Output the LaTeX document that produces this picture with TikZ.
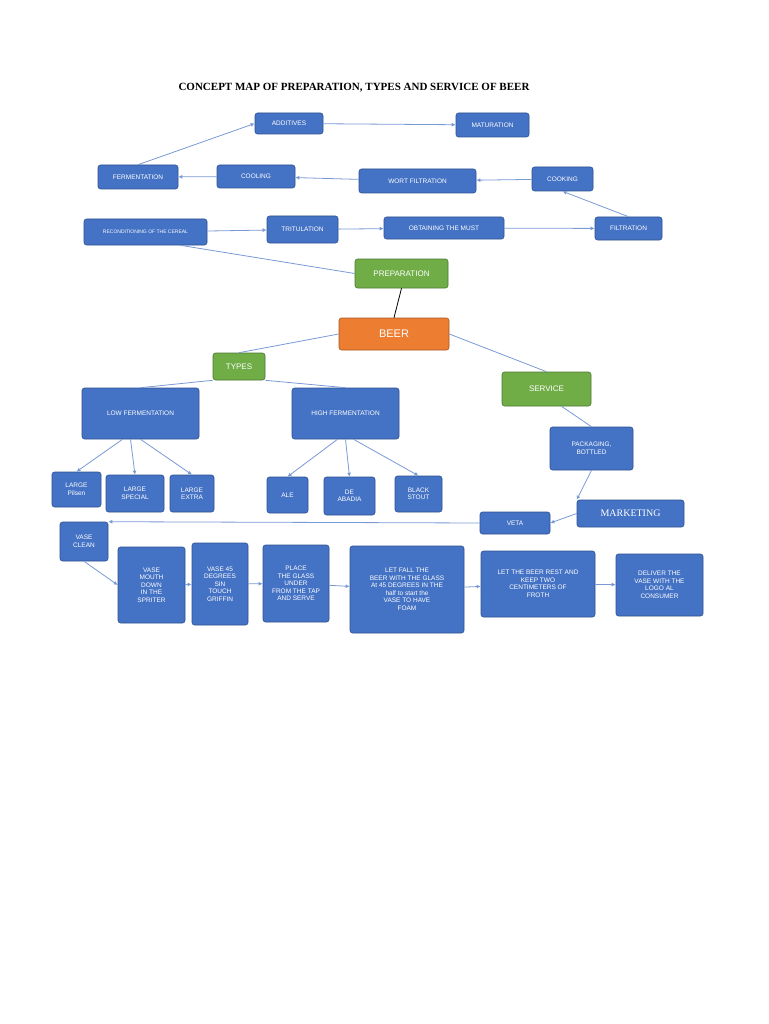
\documentclass[tikz,border=0pt]{standalone}
\usepackage{fontspec}
\setmainfont{Liberation Sans}
\newfontfamily\serifx{Liberation Serif}
\usetikzlibrary{arrows.meta}
\definecolor{bbox}{HTML}{4472C4}
\definecolor{bedge}{HTML}{2F528F}
\definecolor{gbox}{HTML}{70AD47}
\definecolor{obox}{HTML}{ED7D31}
\definecolor{lnk}{HTML}{7A9AD6}
\tikzset{
 bx/.style={draw=bedge,fill=bbox,rounded corners=2.5pt,text=white,font=\fontsize{6.5}{7.5}\selectfont,align=center,inner sep=1pt,line width=0.6pt},
 gx/.style={bx,draw=gbox!70!black,fill=gbox},
 ar/.style={-{Latex[length=4pt,width=4pt]},draw=lnk,line width=0.8pt},
 ln/.style={draw=lnk,line width=0.8pt},
}
\newcommand\bxat[6]{\node[bx,minimum width=#3-#1,minimum height=#4-#2,text width=#3-#1-4pt,#6] (#5) at ({(#1+#3)/2},{(#2+#4)/2}) {};}
\begin{document}
\begin{tikzpicture}[x=1pt,y=-1pt]
\useasboundingbox[fill=white] (0,0) rectangle (768,1024);
\node[font=\serifx\bfseries\fontsize{11}{12}\selectfont] (title) at (354,88) {CONCEPT MAP OF PREPARATION, TYPES AND SERVICE OF BEER};
\def\B#1#2#3#4#5#6{\node[bx,minimum width=#3-#1,minimum height=#4-#2] (#5) at ({(#1+#3)/2},{(#2+#4)/2}) {#6};}
\B{255}{113}{323}{134}{add}{ADDITIVES}
\B{456}{113}{529}{137}{mat}{MATURATION}
\B{98}{165}{178}{189}{fer}{FERMENTATION}
\B{217}{165}{295}{188}{coo}{COOLING}
\B{359}{169}{476}{193}{wor}{WORT FILTRATION}
\B{532}{167}{593}{191}{cok}{COOKING}
\node[bx,font=\fontsize{5}{6}\selectfont,minimum width=123,minimum height=26] (rec) at (145.5,232) {RECONDITIONING OF THE CEREAL};
\B{267}{216}{338}{243}{tri}{TRITULATION}
\B{384}{217}{504}{239}{obt}{OBTAINING THE MUST}
\B{595}{217}{662}{240}{fil}{FILTRATION}
\node[gx,font=\fontsize{8}{9}\selectfont,minimum width=93,minimum height=29] (prep) at (401.5,273.5) {PREPARATION};
\node[bx,draw=obox!70!black,fill=obox,font=\fontsize{11}{12}\selectfont,minimum width=110,minimum height=32] (beer) at (394,334) {BEER};
\node[gx,font=\fontsize{8}{9}\selectfont,minimum width=52,minimum height=27] (typ) at (239,366.5) {TYPES};
\node[gx,font=\fontsize{8}{9}\selectfont,minimum width=89,minimum height=34] (ser) at (546.5,389) {SERVICE};
\B{82}{388}{199}{439}{low}{LOW FERMENTATION}
\B{292}{388}{399}{439}{hig}{HIGH FERMENTATION}
\B{52}{472}{101}{507}{lp}{LARGE\\Pilsen}
\B{106}{475}{164}{512}{ls}{LARGE\\SPECIAL}
\B{170}{475}{214}{512}{le}{LARGE\\EXTRA}
\B{267}{477}{308}{513}{ale}{ALE}
\B{324}{477}{375}{515}{aba}{DE\\ABADIA}
\B{395}{476}{442}{512}{sto}{BLACK\\STOUT}
\B{550}{427}{633}{470}{pac}{PACKAGING,\\BOTTLED}
\node[bx,font=\serifx\fontsize{10}{11}\selectfont,minimum width=107,minimum height=27] (mar) at (630.5,513.5) {MARKETING};
\B{480}{512}{550}{534}{vet}{VETA}
\B{60}{522}{108}{561}{vc}{VASE\\CLEAN}
\B{118}{547}{185}{623}{vm}{VASE\\MOUTH\\DOWN\\IN THE\\SPRITER}
\B{192}{543}{248}{625}{v45}{VASE 45\\DEGREES\\SIN\\TOUCH\\GRIFFIN}
\B{263}{545}{329}{622}{pla}{PLACE\\THE GLASS\\UNDER\\FROM THE TAP\\AND SERVE}
\B{350}{546}{464}{633}{let}{LET FALL THE\\BEER WITH THE GLASS\\At 45 DEGREES IN THE\\half to start the\\VASE TO HAVE\\FOAM}
\B{481}{551}{595}{617}{res}{LET THE BEER REST AND\\KEEP TWO\\CENTIMETERS OF\\FROTH}
\B{616}{554}{703}{616}{del}{DELIVER THE\\VASE WITH THE\\LOGO AL\\CONSUMER}
% connectors
\draw[ar] (fer.north) -- (add.west);
\draw[ar] (add) -- (mat);
\draw[ar] (coo) -- (fer);
\draw[ar] (wor) -- (coo);
\draw[ar] (cok) -- (wor);
\draw[ar] (fil.north) -- (cok.south);
\draw[ar] (rec) -- (tri);
\draw[ar] (tri) -- (obt);
\draw[ar] (obt) -- (fil);
\draw[ln] (rec.south east) ++(-27,0) coordinate (rb) -- (prep.west);
\draw[black,line width=0.8pt] (prep.south) -- (beer.north);
\draw[ln] (beer.west) -- (typ.north);
\draw[ln] (beer.east) -- (ser.north);
\draw[ln] (typ.south west) -- (low.north);
\draw[ln] (typ.south east) -- (hig.north);
\draw[ar] (low.south) ++(-18,0) coordinate (l1) -- (lp.north);
\draw[ar] (low.south) ++(-10,0) coordinate (l2) -- (ls.north);
\draw[ar] (low.south) coordinate (l3) -- (le.north);
\draw[ar] (hig.south) ++(-8,0) coordinate (h1) -- (ale.north);
\draw[ar] (hig.south) ++(0,0) coordinate (h2) -- (aba.north);
\draw[ar] (hig.south) ++(8,0) coordinate (h3) -- (sto.north);
\draw[ln] (ser.south) ++(15,0) coordinate (s1) -- (pac.north);
\draw[ar] (pac.south) -- (mar.north west);
\draw[ar] (mar.west) -- (vet.east);
\draw[ar] (vet.west) -- (vc.north east);
\draw[ar] (vc.south) -- (vm.west);
\draw[ar] (vm) -- (v45);
\draw[ar] (v45) -- (pla);
\draw[ar] (pla) -- (let);
\draw[ar] (let) -- (res);
\draw[ar] (res) -- (del);
\end{tikzpicture}
\end{document}
